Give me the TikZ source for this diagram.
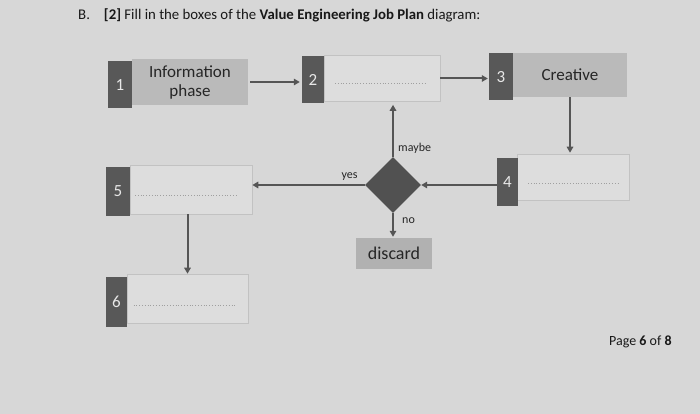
\documentclass[tikz,border=0pt]{standalone}
\usepackage{fontspec}
\setmainfont{Carlito}
\usetikzlibrary{positioning,shapes.geometric,arrows.meta}

\definecolor{paper}{HTML}{D7D7D7}
\definecolor{tabgray}{HTML}{585858}
\definecolor{fillgray}{HTML}{BABABA}
\definecolor{emptygray}{HTML}{DDDDDD}
\definecolor{edgegray}{HTML}{C2C2C2}
\definecolor{inkgray}{HTML}{555555}

\tikzset{
  tab/.style={fill=tabgray, text=paper!60!white, minimum width=23pt, minimum height=47pt,
    inner sep=0pt, font=\fontsize{17}{17}\selectfont},
  panel/.style={fill=fillgray, minimum width=116pt, minimum height=46pt, inner sep=0pt,
    align=center, font=\fontsize{17}{19}\selectfont, text=black!85},
  blank/.style={panel, fill=emptygray, draw=edgegray, line width=0.6pt},
  arr/.style={draw=inkgray, line width=2pt, -{Triangle[length=6pt,width=6.5pt]}},
  lbl/.style={inner sep=1pt, font=\fontsize{12}{12}\selectfont, text=black!85},
  dotline/.style={draw=gray!75, dotted, line width=0.8pt}
}

\begin{document}
\begin{tikzpicture}[x=1pt, y=-1pt]
            \fill[paper] (0,0) rectangle (700,414);
            \useasboundingbox (0,0) rectangle (700,414);

            % heading and page number
            \node[anchor=west, inner sep=0pt, font=\fontsize{14.8}{14.8}\selectfont, text=black!90] (title) at (78,15)
                {B.\hspace{14pt}\textbf{[2]} Fill in the boxes of the \textbf{Value Engineering Job Plan} diagram:};
            \node[anchor=west, inner sep=0pt, font=\fontsize{14}{14}\selectfont, text=black!90] (page) at (609,342)
                {Page \textbf{6} of \textbf{8}};

            % the six phases: boxes first, number tabs on top
            \node[panel] (b1) at (190,82) {Information\\phase};
            \node[blank] (b2) at (382,78.5) {};
            \node[panel, minimum width=114pt, minimum height=44pt] (b3) at (570,75) {Creative};
            \node[blank, minimum width=112pt] (b4) at (573,177) {};
            \node[blank, minimum width=122pt, minimum height=49pt] (b5) at (191,189.5) {};
            \node[blank, minimum width=121pt, minimum height=49pt] (b6) at (187.5,298.5) {};

            \node[tab, minimum width=24pt] (t1) at (120,85) {1};
            \node[tab, minimum width=22pt] (t2) at (313,80) {2};
            \node[tab, minimum width=24pt] (t3) at (501,77) {3};
            \node[tab, minimum width=21pt, minimum height=48pt] (t4) at (507.5,182) {4};
            \node[tab, minimum width=24pt, minimum height=49pt] (t5) at (118,191.5) {5};
            \node[tab, minimum width=21pt, minimum height=50pt] (t6) at (116.5,302) {6};

            % empty answer lines
            \foreach \b/\l/\r/\h in {b2/47/45/4.5, b4/45/45/6, b5/56/46/5.5, b6/54/47/6.5}
                \draw[dotline] ([xshift=-\l pt, yshift=-\h pt]\b.center) -- ([xshift=\r pt, yshift=-\h pt]\b.center);

            % decision and discard
            \node[diamond, fill=inkgray!95!black, minimum width=56pt, minimum height=56pt, inner sep=0pt] (dec) at (393,185) {};
            \node[fill=fillgray!95!black, minimum width=76pt, minimum height=31pt, inner sep=0pt,
                font=\fontsize{18}{18}\selectfont, text=black!85] (disc) at (394,253.5) {discard};

            % flow
            \draw[arr, shorten <=2pt, shorten >=2pt] (b1.east) -- (t2.west |- b1.east);
            \draw[arr, shorten >=1pt] (b2.east) -- (t3.west |- b2.east);
            \draw[arr, shorten >=1pt] (b3.south) -- (b3.south |- b4.north);
            \draw[arr] (t4.west |- dec) -- (dec.east);
            \draw[arr] (dec.west) -- (dec.west -| b5.east);
            \draw[arr, shorten >=3pt] (dec.north) -- (b2.south -| dec.north);
            \draw[arr, shorten >=1pt] (dec.south) -- (disc.north -| dec.south);
            \draw[arr] (b6.north |- b5.south) -- (b6.north);

            % branch labels
            \node[lbl, above right=2pt and 4pt of dec.north] (maybe) {maybe};
            \node[lbl, above left=3pt and 6pt of dec.west] (yes) {yes};
            \node[lbl, below right=3pt and 8pt of dec.south] (no) {no};
        \end{tikzpicture}
\end{document}
